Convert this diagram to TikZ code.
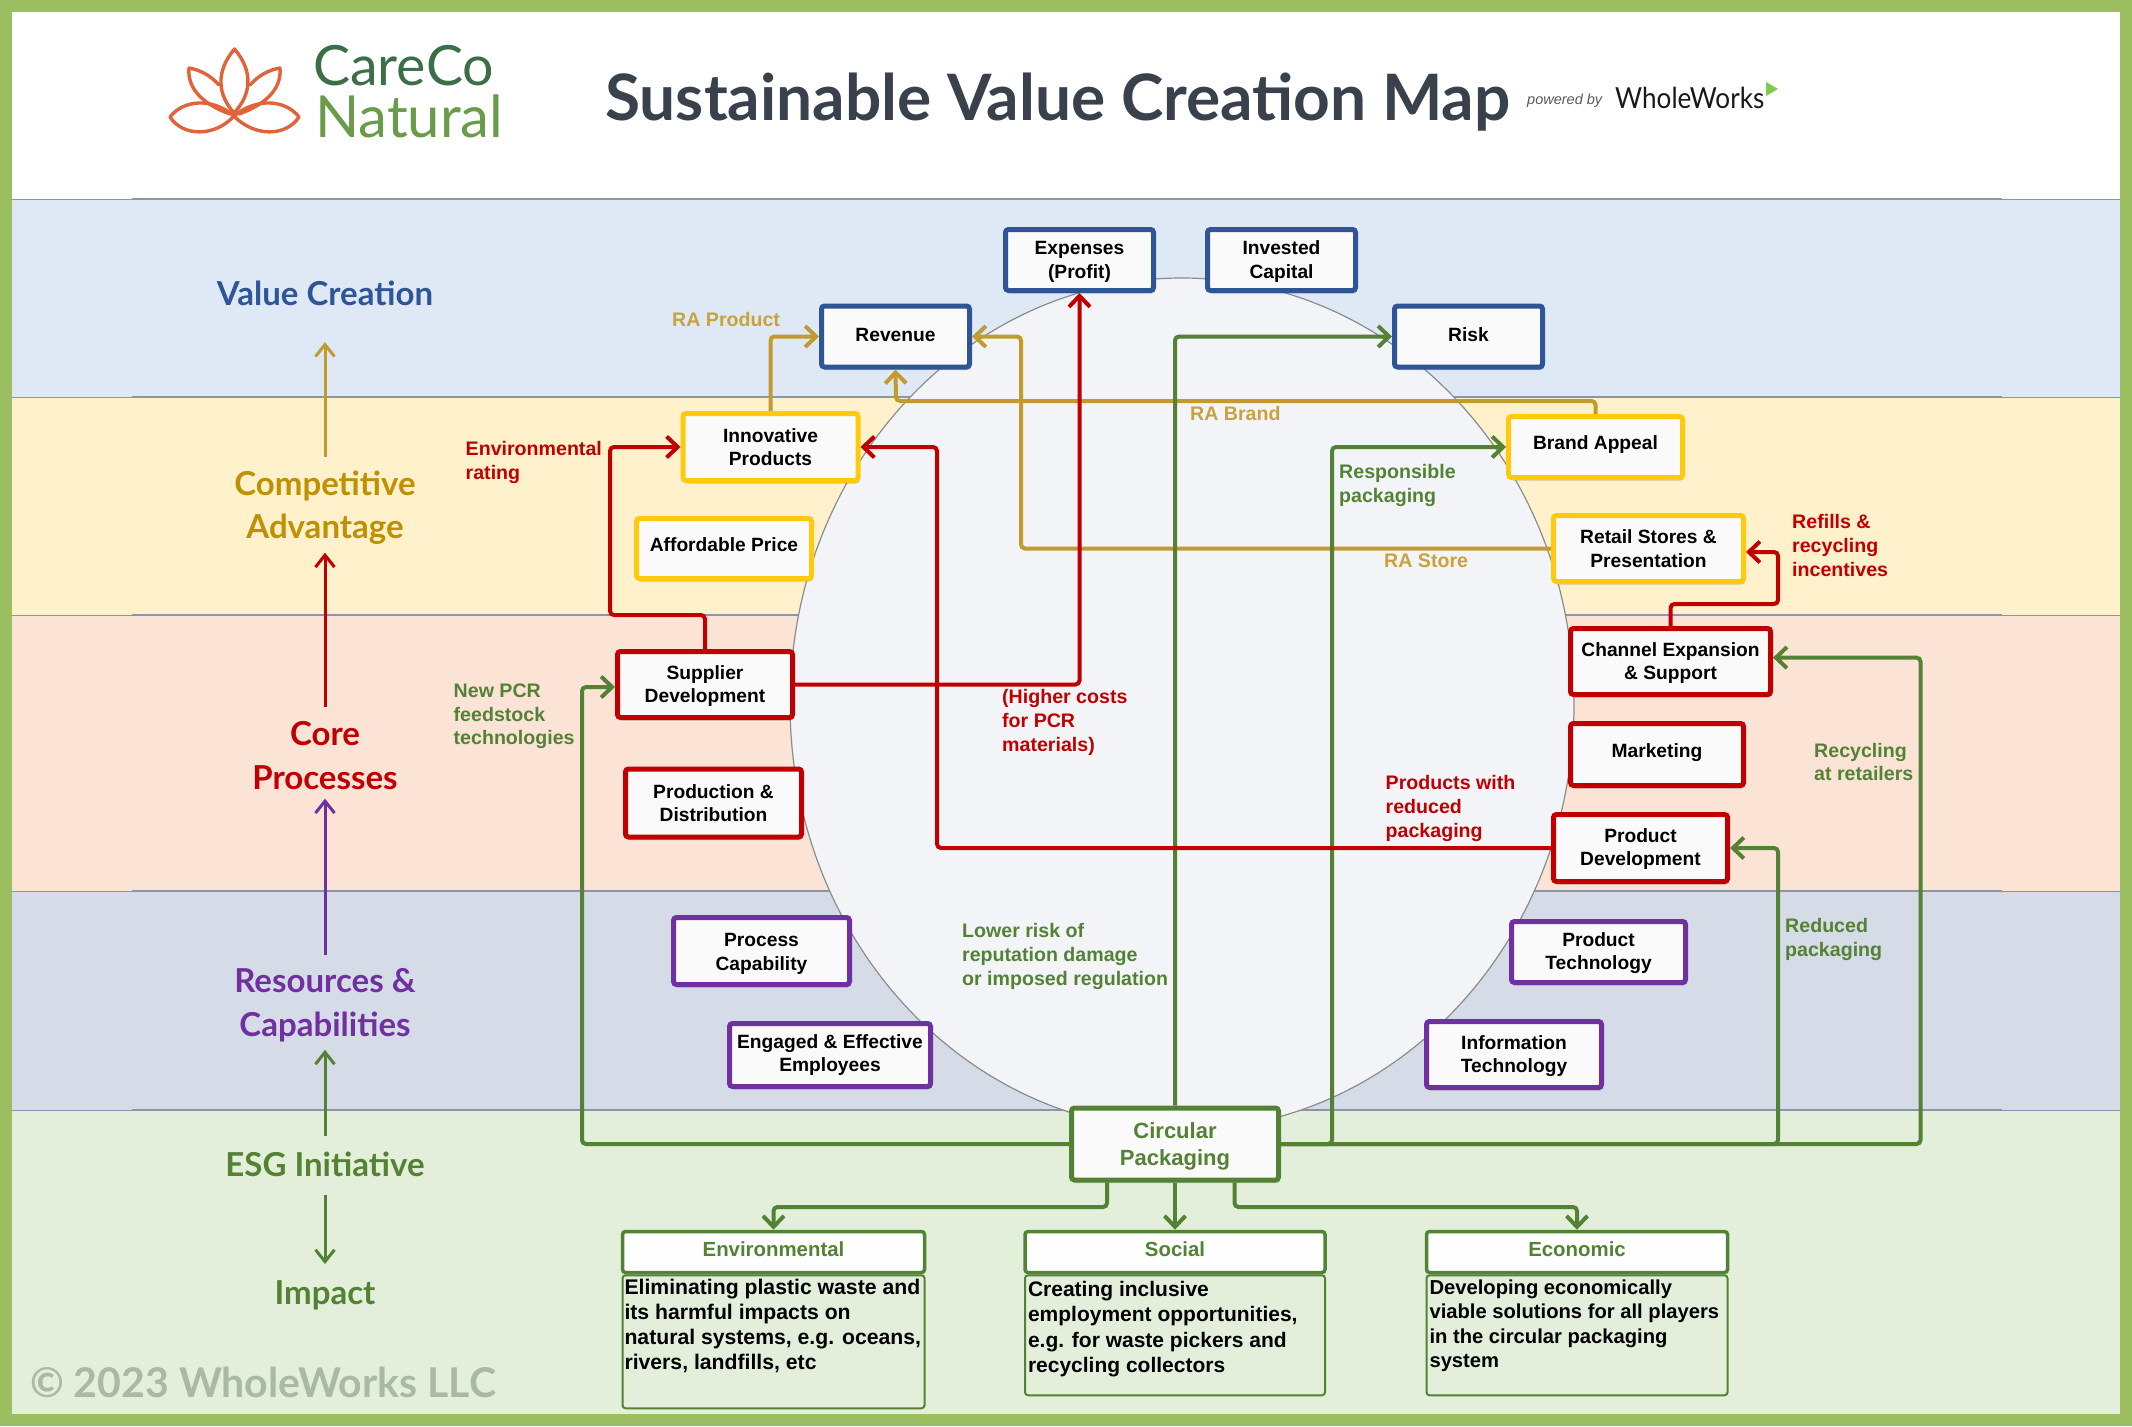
\documentclass[tikz,border=0pt]{standalone}
\usepackage{fontspec}
\setmainfont{Liberation Sans}
\newfontfamily\latof{Lato}
\usetikzlibrary{arrows.meta,shadows,calc}
\definecolor{bord}{HTML}{9BBF60}
\definecolor{bblue}{HTML}{DEE9F5}
\definecolor{byel}{HTML}{FFF1CC}
\definecolor{bpeach}{HTML}{FBE4D6}
\definecolor{bgrey}{HTML}{D5DCE7}
\definecolor{bgreen}{HTML}{E3EFDA}
\definecolor{circfill}{HTML}{F2F4F7}
\definecolor{cblue}{HTML}{2F5597}
\definecolor{cyel}{HTML}{FFC90E}
\definecolor{cred}{HTML}{C00000}
\definecolor{cpur}{HTML}{7030A0}
\definecolor{cgrn}{HTML}{548235}
\definecolor{cgold}{HTML}{C19B2E}
\definecolor{lgold}{HTML}{BF9000}
\definecolor{rgold}{HTML}{C9A23C}
\definecolor{ctitle}{HTML}{39414D}
\definecolor{lotus}{HTML}{E0633A}
\definecolor{bandline}{HTML}{8A96A6}
\definecolor{copyc}{HTML}{A9B9A6}
\definecolor{cnatural}{HTML}{6A9B4A}
\definecolor{ccareco}{HTML}{3C6E47}
\newcommand\shifted[2]{\raisebox{#1}[\height][\depth]{\begin{tabular}{@{}c@{}}#2\end{tabular}}}
\tikzset{
 px/.style={x=1pt,y=-1pt},
 bx/.style={draw,rounded corners=3pt,line width=5pt,fill=white!98!black,align=center,inner sep=0pt,
   font=\bfseries\fontsize{19.2}{23.5}\selectfont,text=black,
   drop shadow={opacity=.35,shadow xshift=1.5pt,shadow yshift=-3pt}},
 bxblue/.style={bx,draw=cblue},
 bxyel/.style={bx,draw=cyel},
 bxred/.style={bx,draw=cred},
 bxpur/.style={bx,draw=cpur},
 bxgrn/.style={bx,draw=cgrn,text=cgrn,font=\bfseries\fontsize{22}{27}\selectfont},
 hdr/.style={draw=cgrn,rounded corners=3pt,line width=3.5pt,fill=white!96!bgreen,text=cgrn,
   font=\bfseries\fontsize{20.4}{24}\selectfont,inner sep=0pt},
 bodyb/.style={draw=cgrn,rounded corners=3pt,line width=2pt,inner sep=0pt,text=black},
 lab/.style={anchor=west,align=left,inner sep=0pt,font=\bfseries\fontsize{19.6}{23.8}\selectfont},
 head/.style={align=center,inner sep=0pt,font=\latof\bfseries\fontsize{33}{43.5}\selectfont},
 conn/.style={line width=4pt,rounded corners=4pt,-{Straight Barb[length=11pt,width=21pt,line width=4pt]}},
 upar/.style={line width=3pt,-{Straight Barb[length=12pt,width=19pt,line width=3pt]}},
 petal/.style={draw=lotus,line width=3.4pt,line cap=round,line join=round},
 bandsep/.style={draw=bandline,line width=1.5pt},
 bandthin/.style={draw=bandline,line width=.8pt},
}
\begin{document}
\begin{tikzpicture}[px]
\useasboundingbox (0,0) rectangle (2132,1426);
% frame and bands
\fill[bord] (0,0) rectangle (2132,1426);
\fill[white] (12,12) rectangle (2120,199);
\fill[bblue] (12,199) rectangle (2120,397);
\fill[byel] (12,397) rectangle (2120,615);
\fill[bpeach] (12,615) rectangle (2120,891);
\fill[bgrey] (12,891) rectangle (2120,1110);
\fill[bgreen] (12,1110) rectangle (2120,1414);
\foreach \yy in {199,397,615,891,1110}{
  \draw[bandsep] (132,\yy) -- (2002,\yy);
  \draw[bandthin] (12,\yy) -- (132,\yy);
  \draw[bandthin] (2002,\yy) -- (2120,\yy);
}
% big circle
\draw[fill=circfill,draw=black!45,line width=1.2pt] (1182,704) ellipse [x radius=392,y radius=426];
% logo
\draw[petal] (234,113) .. controls (218,95) and (215,72) .. (234.5,49) .. controls (254,72) and (251,95) .. (234,113);
\draw[petal] (230,114) .. controls (205,105) and (187,90) .. (189,68) .. controls (200,70) and (210,75) .. (219,85);
\draw[petal] (239,114) .. controls (264,105) and (282,90) .. (280,68) .. controls (269,70) and (259,75) .. (250,85);
\draw[petal] (234,116) .. controls (212,97) and (183,100) .. (170,117) .. controls (183,137) and (215,137) .. (234,116);
\draw[petal] (234,116) .. controls (257,97) and (286,100) .. (299,117) .. controls (286,137) and (254,137) .. (234,116);
\node[anchor=west,inner sep=0pt,text=ccareco,font=\latof\fontsize{55.5}{55}\selectfont] (careco) at (313,66) {CareCo};
\node[anchor=west,inner sep=0pt,text=cnatural,font=\latof\fontsize{58}{55}\selectfont] (natural) at (315,116) {Natural};
\node[anchor=west,inner sep=0pt,text=ctitle,font=\latof\bfseries\fontsize{64}{64}\selectfont] (title) at (605,102) {Sustainable Value Creation Map};
\node[anchor=west,inner sep=0pt,text=black!65,font=\itshape\fontsize{14.5}{15}\selectfont] (powered) at (1527,101) {powered by};
\node[anchor=west,inner sep=0pt,text=black!90,font=\latof\fontsize{29}{29}\selectfont] (whole) at (1615,98) {\scalebox{.9}[1]{WholeWorks}};
\fill[bord!80!green] (1766,82) -- (1778,89) -- (1766,96) -- cycle;
% left column
\node[head,text=cblue] (lvalue) at (325,293.5) {Value Creation};
\node[head,text=lgold] (lcomp) at (325,507.5) {Competitive\\Advantage};
\node[head,text=cred] (lcore) at (325,755.5) {Core\\Processes};
\node[head,text=cpur] (lres) at (325,1005) {Resources \&\\Capabilities};
\node[head,text=cgrn] (lesg) at (325,1164) {ESG Initiative};
\node[head,text=cgrn] (limp) at (325,1295) {Impact};
\node[anchor=west,inner sep=0pt,text=copyc,font=\latof\bfseries\fontsize{41}{41}\selectfont] (copy) at (30,1382) {© 2023 WholeWorks LLC};
\draw[upar,cgold,shorten <=13pt,shorten >=36pt] (lcomp.north) -- (lvalue.south);
\draw[upar,cred,shorten <=14pt,shorten >=8pt] (lcore.north) -- (lcomp.south);
\draw[upar,cpur,shorten <=13pt,shorten >=9pt] (lres.north) -- (lcore.south);
\draw[upar,cgrn,shorten <=15pt,shorten >=8pt] (lesg.north) -- (lres.south);
\draw[upar,cgrn,shorten <=18pt,shorten >=16pt] (lesg.south) -- (limp.north);
% boxes
\node[bxblue,minimum width=148,minimum height=61] (revenue) at (895.5,336.5) {\shifted{-.5pt}{Revenue}};
\node[bxblue,minimum width=148,minimum height=61] (expenses) at (1079.5,260) {\shifted{-2pt}{Expenses\\(Profit)}};
\node[bxblue,minimum width=148,minimum height=61] (invested) at (1281.5,260) {\shifted{-2pt}{Invested\\Capital}};
\node[bxblue,minimum width=148,minimum height=61] (risk) at (1468.5,336.5) {\shifted{-.5pt}{Risk}};
\node[bxyel,minimum width=175,minimum height=67] (innov) at (770.5,447) {Innovative\\Products};
\node[bxyel,minimum width=175,minimum height=60] (afford) at (724,548.5) {\shifted{1.4pt}{Affordable Price}};
\node[bxyel,minimum width=174,minimum height=61] (brand) at (1595.5,447) {\shifted{2.7pt}{Brand Appeal}};
\node[bxyel,minimum width=190,minimum height=66] (retail) at (1648.5,548.5) {Retail Stores \&\\Presentation};
\node[bxred,minimum width=175,minimum height=66] (supplier) at (705,684.5) {\shifted{-2pt}{Supplier\\Development}};
\node[bxred,minimum width=176,minimum height=68] (prod) at (713.5,803) {Production \&\\Distribution};
\node[bxred,minimum width=200,minimum height=66] (channel) at (1670.5,661.5) {\shifted{-2pt}{Channel Expansion\\\& Support}};
\node[bxred,minimum width=173,minimum height=62] (market) at (1657,754.5) {\shifted{1.4pt}{Marketing}};
\node[bxred,minimum width=174,minimum height=67] (pdev) at (1640.5,848) {\shifted{-1.4pt}{Product\\Development}};
\node[bxpur,minimum width=176,minimum height=67] (process) at (761.5,951) {\shifted{-2.7pt}{Process\\Capability}};
\node[bxpur,minimum width=201,minimum height=63] (engaged) at (830,1055) {Engaged \& Effective\\Employees};
\node[bxpur,minimum width=174,minimum height=61] (ptech) at (1598.5,952) {\shifted{-1.4pt}{Product\\Technology}};
\node[bxpur,minimum width=175,minimum height=66] (itech) at (1514,1054.5) {\shifted{-2pt}{Information\\Technology}};
\node[bxgrn,minimum width=207,minimum height=72] (circ) at (1175,1144) {\shifted{-2.7pt}{Circular\\Packaging}};
\node[hdr,minimum width=302,minimum height=41] (env) at (773.5,1252) {\shifted{0pt}{Environmental}};
\node[hdr,minimum width=300,minimum height=41] (social) at (1175,1252) {\shifted{0pt}{Social}};
\node[hdr,minimum width=301,minimum height=41] (econ) at (1577,1252) {\shifted{0pt}{Economic}};
\node[bodyb,anchor=north,minimum width=302,minimum height=133] (envb) at (env.south) {\parbox[c][129pt][t]{298pt}{\raggedright\bfseries\fontsize{21.2}{25}\selectfont\strut Eliminating plastic waste and\\its harmful impacts on\\natural systems, e.g. oceans,\\rivers, landfills, etc}};
\node[bodyb,anchor=north,minimum width=300,minimum height=120] (socialb) at (social.south) {\parbox[c][116pt][t]{294pt}{\raggedright\bfseries\fontsize{21}{25.2}\selectfont\rule{0pt}{19.5pt}Creating inclusive\\employment opportunities,\\e.g. for waste pickers and\\recycling collectors}};
\node[bodyb,anchor=north,minimum width=301,minimum height=120] (econb) at (econ.south) {\parbox[c][116pt][t]{295pt}{\raggedright\bfseries\fontsize{20.2}{24.5}\selectfont\rule{0pt}{17pt}Developing economically\\viable solutions for all players\\in the circular packaging\\system}};
% labels
\node[lab,text=rgold] (tra1) at (672,319) {RA Product};
\node[lab,text=cred] (tenv) at (465.5,462.4) {Environmental\\rating};
\node[lab,text=cgrn] (tpcr) at (453.5,716.4) {New PCR\\feedstock\\technologies};
\node[lab,text=cred] (thigh) at (1002,722.4) {(Higher costs\\for PCR\\materials)};
\node[lab,text=cgrn] (tlow) at (962,956.4) {Lower risk of\\reputation damage\\or imposed regulation};
\node[lab,text=rgold] (tra2) at (1190,413) {RA Brand};
\node[lab,text=cgrn] (tresp) at (1339,485.4) {Responsible\\packaging};
\node[lab,text=rgold] (tra3) at (1384,561) {RA Store};
\node[lab,text=cred] (trefill) at (1792,545.5) {Refills \&\\recycling\\incentives};
\node[lab,text=cgrn] (trecy) at (1814,762) {Recycling\\at retailers};
\node[lab,text=cred] (tpwr) at (1385.5,808.4) {Products with\\reduced\\packaging};
\node[lab,text=cgrn] (tred) at (1785,939.4) {Reduced\\packaging};
% waypoints
\coordinate (wb) at (896,401);
\coordinate (ws) at (1021,336.5);
\coordinate (wr1) at (705,615);
\coordinate (wr2) at (610,447);
\coordinate (wh) at (1079.5,684.5);
\coordinate (wp) at (937,447);
\coordinate (wg1) at (1332,447);
\coordinate (wg2) at (1778,848);
\coordinate (wg3) at (1920.5,657.6);
\coordinate (wg4) at (582,687);
\coordinate (we1) at (1107,1207);
\coordinate (we2) at (773.5,1207);
\coordinate (wo1) at (1234.5,1207);
\coordinate (wo2) at (1577,1207);
\coordinate (wc1) at (1670.5,604);
\coordinate (wc2) at (1778,552);
% gold connectors
\draw[conn,cgold] (innov.north) |- (revenue.west);
\draw[conn,cgold] (brand.north) |- (wb) -- (revenue.south);
\draw[conn,cgold] (retail.west) -| (ws) -- (revenue.east);
% green connectors
\draw[conn,cgrn] (circ.north) |- (risk.west);
\draw[conn,cgrn] (circ.east) -| (wg1) -- (brand.west);
\draw[conn,cgrn] (circ.east) -| (wg2) -- (pdev.east);
\draw[conn,cgrn] (circ.east) -| (wg3) -- (wg3 -| channel.east);
\draw[conn,cgrn] (circ.west) -| (wg4) -- (wg4 -| supplier.west);
\draw[conn,cgrn] (circ.south) -- (social.north);
\draw[conn,cgrn] (we1 |- circ.south) -- (we1) -- (we2) -- (env.north);
\draw[conn,cgrn] (wo1 |- circ.south) -- (wo1) -- (wo2) -- (econ.north);
% red connectors
\draw[conn,cred] (supplier.north) -- (wr1) -| (wr2) -- (innov.west);
\draw[conn,cred] (supplier.east) -- (wh) -- (expenses.south);
\draw[conn,cred] (pdev.west) -| (wp) -- (innov.east);
\draw[conn,cred] (channel.north) -- (wc1) -| (wc2) -- (wc2 -| retail.east);
\end{tikzpicture}
\end{document}
